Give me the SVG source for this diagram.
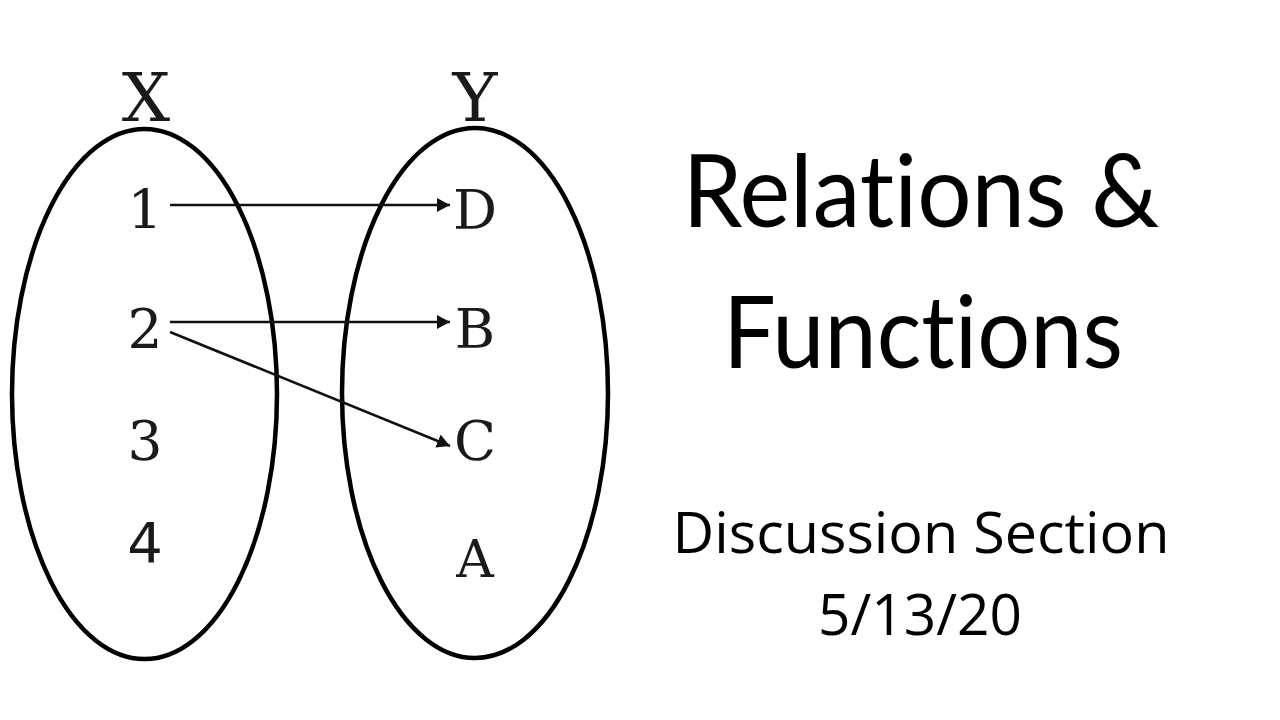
<svg xmlns="http://www.w3.org/2000/svg" width="1280" height="720" viewBox="0 0 1280 720">
<style>
.set{fill:none;stroke:#000;stroke-width:4.5}
.lbl{font-family:"DejaVu Serif","Liberation Serif",serif;fill:#1a1a1a;text-anchor:middle}
.conn{stroke:#111;stroke-width:2.6;fill:none}
.title{font-family:Lato,"Noto Sans",sans-serif;font-weight:400;fill:#000;text-anchor:middle;font-variant-ligatures:none}
.sub{font-family:"Open Sans","Noto Sans",sans-serif;fill:#000;text-anchor:middle}
</style>
<defs>
<marker id="ah" markerUnits="userSpaceOnUse" markerWidth="14" markerHeight="15" refX="13" refY="7" orient="auto">
<path d="M0,0 L13,7 L0,14 z" fill="#111"/>
</marker>
</defs>
<rect width="1280" height="720" fill="#fff"/>
<g id="setX">
<ellipse class="set" cx="144.5" cy="394" rx="132.5" ry="265"/>
<text class="lbl" x="146" y="121" font-size="68">X</text>
<text class="lbl" x="145" y="229" font-size="55">1</text>
<text class="lbl" x="145" y="348" font-size="55">2</text>
<text class="lbl" x="145" y="460" font-size="55">3</text>
<text x="145" y="562" font-size="56" font-family="DejaVu Sans, sans-serif" text-anchor="middle" fill="#1a1a1a">4</text>
</g>
<g id="setY">
<ellipse class="set" cx="475" cy="393" rx="133" ry="265"/>
<text class="lbl" x="475" y="121" font-size="68">Y</text>
<text class="lbl" x="475" y="229" font-size="55">D</text>
<text class="lbl" x="475" y="348" font-size="55">B</text>
<text class="lbl" x="475" y="460" font-size="55">C</text>
<text class="lbl" x="475" y="577" font-size="52">A</text>
</g>
<g id="connectors">
<line class="conn" x1="170" y1="205" x2="450" y2="205" marker-end="url(#ah)"/>
<line class="conn" x1="170" y1="322" x2="450" y2="322" marker-end="url(#ah)"/>
<line class="conn" x1="170" y1="332" x2="450" y2="446" marker-end="url(#ah)"/>
</g>
<g id="title">
<text class="title" x="921" y="227" font-size="100" textLength="477" lengthAdjust="spacingAndGlyphs">Relations &amp;</text>
<text class="title" x="923" y="368" font-size="100" textLength="400" lengthAdjust="spacingAndGlyphs">Functions</text>
</g>
<g id="subtitle">
<text class="sub" x="921" y="553" font-size="57" textLength="497" lengthAdjust="spacingAndGlyphs">Discussion Section</text>
<text class="sub" x="920" y="635" font-size="57" textLength="204" lengthAdjust="spacingAndGlyphs">5/13/20</text>
</g>
</svg>
